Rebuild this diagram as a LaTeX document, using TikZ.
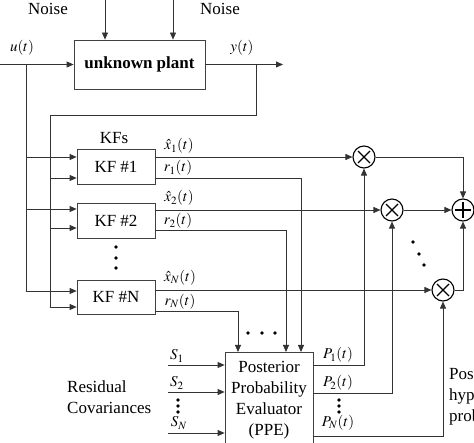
\documentclass[tikz,border=0pt]{standalone}
\usepackage{mathptmx}
\usepackage{fontspec}
\setmainfont{Liberation Serif}
\usetikzlibrary{arrows.meta}
\begin{document}
\begin{tikzpicture}[x=1pt,y=-1pt,
  line/.style={draw=black!80, line width=0.8pt},
  arr/.style={line, -{Triangle[length=7pt,width=6pt]}},
  box/.style={draw=black!75, line width=0.8pt, inner sep=0pt, font=\fontsize{17}{21}\selectfont},
  txt/.style={font=\fontsize{17}{21}\selectfont, inner sep=0pt},
  lab/.style={font=\fontsize{15}{18}\selectfont, inner sep=0pt},
  mult/.style={circle, draw=black, line width=1.1pt, minimum size=22pt, inner sep=0pt,
    path picture={\draw[line width=1.1pt] (path picture bounding box.center) ++(-6,-6) -- ++(12,12)
      (path picture bounding box.center) ++(-6,6) -- ++(12,-12);}},
  summ/.style={circle, draw=black, line width=1.1pt, minimum size=22pt, inner sep=0pt,
    path picture={\draw[line width=1.1pt] (path picture bounding box.center) ++(-8,0) -- ++(16,0)
      (path picture bounding box.center) ++(0,-8) -- ++(0,16);}},
  dot/.style={circle, fill=black, inner sep=0pt, minimum size=3.6pt}]
\useasboundingbox (0,0) rectangle (474,443);

% plant
\node[txt] (noise1) at (48,9) {Noise};
\node[txt] (noise2) at (220,9) {Noise};
\coordinate (n1) at (105,-2);
\coordinate (n2) at (173,-2);
\node[box, minimum width=131pt, minimum height=49pt] (plant) at (139.5,64.5) {\textbf{unknown plant}};
\draw[arr] (n1) -- (plant.north -| n1);
\draw[arr] (n2) -- (plant.north -| n2);
\coordinate (uin) at (0,64.5);
\node[lab] (ulab) at (22,48) {$u(t)$};
\draw[arr] (uin) -- (plant.west);
\coordinate (yout) at (283,64.5);
\node[lab] (ylab) at (242,48) {$y(t)$};
\draw[arr] (plant.east) -- (yout);

% KFs
\node[txt] (kfs) at (114,138) {KFs};
\node[box, minimum width=78pt, minimum height=35pt] (kf1) at (116,166.5) {KF \#1};
\node[box, minimum width=78pt, minimum height=35pt] (kf2) at (116,220.5) {KF \#2};
\node[box, minimum width=78pt, minimum height=34pt] (kfN) at (116,297) {KF \#N};
\node[dot] (kd1) at (116,247) {};
\node[dot] (kd2) at (116,258) {};
\node[dot] (kd3) at (116,268) {};

% input branches
\coordinate (ub) at (26,64.5);
\coordinate (ubN) at (26,291);
\draw[line] (ub) -- (ubN);
\draw[arr] (ub |- 0,157) -- (kf1.west |- 0,157);
\draw[arr] (ub |- 0,209) -- (kf2.west |- 0,209);
\draw[arr] (ubN) -- (kfN.west |- ubN);

\coordinate (yb) at (256,64.5);
\coordinate (yc) at (256,115);
\coordinate (yd) at (50,115);
\coordinate (ye) at (50,307);
\draw[line] (yb) -- (yc) -- (yd) -- (ye);
\draw[arr] (yd |- 0,178) -- (kf1.west |- 0,178);
\draw[arr] (yd |- 0,228) -- (kf2.west |- 0,228);
\draw[arr] (ye) -- (kfN.west |- ye);

% multipliers and sum
\node[mult] (m1) at (364,157) {};
\node[mult] (m2) at (392,210) {};
\node[mult] (mN) at (443,290) {};
\node[summ] (sum) at (463,210) {};
\node[dot] (md1) at (413,242) {};
\node[dot] (md2) at (419,254) {};
\node[dot] (md3) at (424,265) {};

% PPE
\node[box, anchor=north, minimum width=88pt, minimum height=96pt, align=center] (ppe) at (269,352)
  {Posterior\\Probability\\Evaluator\\(PPE)};

% KF outputs
\draw[arr] (kf1.east |- m1) -- (m1);
\draw[arr] (kf2.east |- m2) -- (m2);
\draw[arr] (kfN.east |- mN) -- (mN);
\draw[arr] (kf1.east |- 0,178) -| (ppe.north -| 301,0);
\draw[arr] (kf2.east |- 0,230) -| (ppe.north -| 286,0);
\draw[arr] (kfN.east |- 0,311) -| (ppe.north -| 238,0);
\node[lab] (x1lab) at (179,146) {$\hat{x}_1(t)$};
\node[lab] (r1lab) at (178,168) {$r_1(t)$};
\node[lab] (x2lab) at (179,198) {$\hat{x}_2(t)$};
\node[lab] (r2lab) at (178,221) {$r_2(t)$};
\node[lab] (xNlab) at (180,278) {$\hat{x}_N(t)$};
\node[lab] (rNlab) at (180,302) {$r_N(t)$};
\node[dot] (pd1) at (248,333) {};
\node[dot] (pd2) at (262,333) {};
\node[dot] (pd3) at (275,333) {};

% multiplier outputs
\coordinate (c1) at (463,157);
\draw[arr] (m1) -- (c1) -- (sum);
\draw[arr] (m2) -- (sum);
\draw[arr] (mN) -| (sum);

% P outputs
\draw[arr] (ppe.east |- 0,365) -| (m1);
\draw[arr] (ppe.east |- 0,393) -| (m2);
\draw[arr] (ppe.east |- 0,436) -| (mN);
\node[lab] (p1lab) at (338,355) {$P_1(t)$};
\node[lab] (p2lab) at (338,383) {$P_2(t)$};
\node[lab] (pNlab) at (338,423) {$P_N(t)$};
\node[dot] (vp1) at (339,400) {};
\node[dot] (vp2) at (339,406) {};
\node[dot] (vp3) at (339,412) {};

% S inputs
\coordinate (s1) at (168,365);
\coordinate (s2) at (168,392);
\coordinate (sN) at (168,433);
\draw[arr] (s1) -- (ppe.west |- s1);
\draw[arr] (s2) -- (ppe.west |- s2);
\draw[arr] (sN) -- (ppe.west |- sN);
\node[lab] (s1lab) at (177,356) {$S_1$};
\node[lab] (s2lab) at (177,383) {$S_2$};
\node[lab] (sNlab) at (179,423) {$S_N$};
\node[dot] (vs1) at (178,400) {};
\node[dot] (vs2) at (178,406) {};
\node[dot] (vs3) at (178,412) {};

\node[txt, anchor=west, align=left] (rescov) at (67,397) {Residual\\Covariances};
\node[txt, anchor=west, align=left] (post) at (449,397) {Posterior\\hypothesis\\probabilities};
\end{tikzpicture}
\end{document}
